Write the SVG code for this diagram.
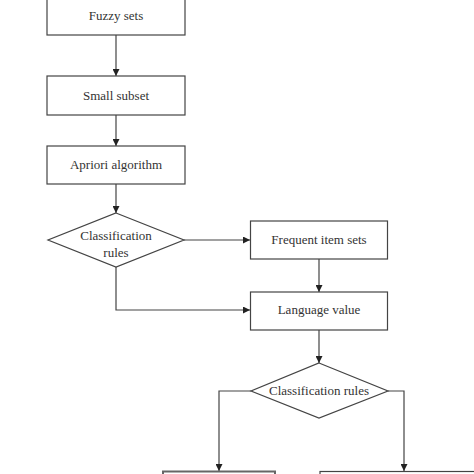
<svg xmlns="http://www.w3.org/2000/svg" width="474" height="474" viewBox="0 0 474 474">
<defs>
<style>
.box{fill:#fff;stroke:#444;stroke-width:1.2}
.lbl{font-family:"Liberation Serif","Times New Roman",serif;font-size:13px;fill:#333;text-anchor:middle}
.con{fill:none;stroke:#444;stroke-width:1.2}
</style>
<marker id="ah" viewBox="0 0 10 10" refX="10" refY="5" markerWidth="7" markerHeight="7" markerUnits="userSpaceOnUse" orient="auto">
<path d="M0,0 L10,5 L0,10 Z" fill="#222"/>
</marker>
</defs>
<rect width="474" height="474" fill="#fff"/>
<g id="connectors">
<line class="con" x1="116" y1="35" x2="116" y2="76" marker-end="url(#ah)"/>
<line class="con" x1="116" y1="115" x2="116" y2="146" marker-end="url(#ah)"/>
<line class="con" x1="116" y1="184" x2="116" y2="213" marker-end="url(#ah)"/>
<line class="con" x1="184" y1="240" x2="250" y2="240" marker-end="url(#ah)"/>
<line class="con" x1="319" y1="259" x2="319" y2="292" marker-end="url(#ah)"/>
<polyline class="con" points="116,267 116,310 250,310" marker-end="url(#ah)"/>
<line class="con" x1="319" y1="330" x2="319" y2="363" marker-end="url(#ah)"/>
<polyline class="con" points="251,391 219,391 219,471" marker-end="url(#ah)"/>
<polyline class="con" points="388,391 404,391 404,471" marker-end="url(#ah)"/>
</g>
<g id="fuzzy-sets">
<rect class="box" x="47" y="-5" width="138" height="40"/>
<text class="lbl" x="116" y="20">Fuzzy sets</text>
</g>
<g id="small-subset">
<rect class="box" x="47" y="76" width="138" height="39"/>
<text class="lbl" x="116" y="99.5">Small subset</text>
</g>
<g id="apriori">
<rect class="box" x="47" y="146" width="138" height="38"/>
<text class="lbl" x="116" y="168.5">Apriori algorithm</text>
</g>
<g id="decision1">
<polygon class="box" points="116,213 184,240 116,267 48,240"/>
<text class="lbl" x="116" y="240">Classification</text>
<text class="lbl" x="116" y="256.5">rules</text>
</g>
<g id="frequent">
<rect class="box" x="250.5" y="221" width="137" height="38"/>
<text class="lbl" x="319" y="243.5">Frequent item sets</text>
</g>
<g id="language">
<rect class="box" x="250.5" y="292" width="137" height="38"/>
<text class="lbl" x="319" y="314">Language value</text>
</g>
<g id="decision2">
<polygon class="box" points="319,363 388,391 319,418 251,391"/>
<text class="lbl" x="319" y="395">Classification rules</text>
</g>
<g id="bottom-left">
<rect x="163" y="471.5" width="112" height="10" fill="#fff" stroke="#666" stroke-width="2"/>
</g>
<g id="bottom-right">
<rect class="box" x="320" y="471.5" width="160" height="10"/>
</g>
</svg>
